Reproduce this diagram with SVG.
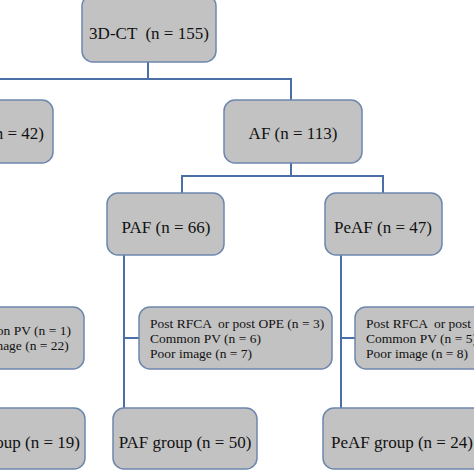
<svg xmlns="http://www.w3.org/2000/svg" width="474" height="474" viewBox="0 0 474 474">
<style>
.box{fill:#c2c2c2;stroke:#6d87ad;stroke-width:1.5}
.conn{fill:none;stroke:#4a6fa5;stroke-width:2}
.t{font-family:"Liberation Serif","Times New Roman",serif;font-size:17px;fill:#111}
.s{font-family:"Liberation Serif","Times New Roman",serif;font-size:13.5px;fill:#111}
</style>
<rect width="474" height="474" fill="#fff"/>
<g id="connectors">
<path class="conn" d="M148,62V79M-10,79H291V100"/>
<path class="conn" d="M291,163V176M182,193V176H383V193"/>
<path class="conn" d="M124,255V408M124,338H139"/>
<path class="conn" d="M341,255V408M341,338H355"/>
</g>
<g id="n3dct"><rect class="box" x="82" y="-5" width="134" height="67" rx="11"/><text class="t" x="149" y="39" text-anchor="middle" xml:space="preserve">3D-CT  (n = 155)</text></g>
<g id="nleft"><rect class="box" x="-20" y="100" width="73" height="63" rx="11"/><text class="t" x="44" y="139" text-anchor="end">(n = 42)</text></g>
<g id="naf"><rect class="box" x="224" y="100" width="138" height="63" rx="11"/><text class="t" x="293" y="139" text-anchor="middle">AF (n = 113)</text></g>
<g id="npaf"><rect class="box" x="107" y="193" width="117" height="62" rx="11"/><text class="t" x="166" y="233" text-anchor="middle">PAF (n = 66)</text></g>
<g id="npeaf"><rect class="box" x="325" y="193" width="117" height="62" rx="11"/><text class="t" x="383" y="233" text-anchor="middle">PeAF (n = 47)</text></g>
<g id="nexleft"><rect class="box" x="-20" y="307" width="104" height="62" rx="11"/><text class="s" x="-40" y="334.5">Common PV (n = 1)</text><text class="s" x="-40" y="349.5">Poor image (n = 22)</text></g>
<g id="nexpaf"><rect class="box" x="139" y="307" width="193" height="62" rx="11"/><text class="s" x="150" y="327.5" xml:space="preserve">Post RFCA  or post OPE (n = 3)</text><text class="s" x="150" y="342.5">Common PV (n = 6)</text><text class="s" x="150" y="357.5">Poor image (n = 7)</text></g>
<g id="nexpeaf"><rect class="box" x="355" y="307" width="140" height="62" rx="11"/><text class="s" x="366" y="327.5" xml:space="preserve">Post RFCA  or post OPE (n = 10)</text><text class="s" x="366" y="342.5">Common PV (n = 5)</text><text class="s" x="366" y="357.5">Poor image (n = 8)</text></g>
<g id="ngleft"><rect class="box" x="-20" y="408" width="105" height="61" rx="11"/><text class="t" x="80" y="448" text-anchor="end">group (n = 19)</text></g>
<g id="ngpaf"><rect class="box" x="113" y="408" width="144" height="61" rx="11"/><text class="t" x="185" y="448" text-anchor="middle">PAF group (n = 50)</text></g>
<g id="ngpeaf"><rect class="box" x="323" y="408" width="170" height="61" rx="11"/><text class="t" x="331" y="448">PeAF group (n = 24)</text></g>
</svg>
